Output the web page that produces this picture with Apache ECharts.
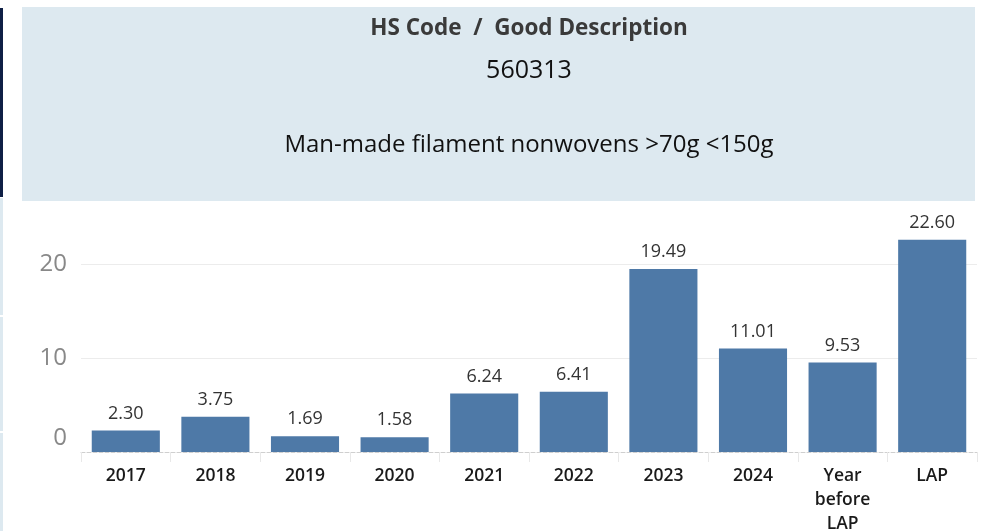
<!DOCTYPE html>
<html>
<head>
<meta charset="utf-8">
<script src="https://cdn.jsdelivr.net/npm/echarts@6/dist/echarts.min.js"></script>
<style>
  html, body { margin: 0; padding: 0; background: #fff; }
  #chart { width: 986px; height: 531px; }
</style>
</head>
<body>
<div id="chart"></div>
<script>
// data
var categories = ["2017", "2018", "2019", "2020", "2021", "2022", "2023", "2024", "Year before LAP", "LAP"];
var values = [2.30, 3.75, 1.69, 1.58, 6.24, 6.41, 19.49, 11.01, 9.53, 22.60];
var yTicks = [0, 10, 20];

var headerLabel = "HS Code  /  Good Description";
var hsCode = "560313";
var goodDesc = "Man-made filament nonwovens >70g <150g";

var FONT = "Open Sans";

var chart = echarts.init(document.getElementById("chart"));

var option = {
  backgroundColor: "#ffffff",
  animation: false,
  graphic: [
    // left edge strips
    { type: "rect", shape: { x: 0, y: 8, width: 3, height: 189 }, style: { fill: "#0e1f45" } },
    { type: "rect", shape: { x: 0, y: 198, width: 3, height: 117 }, style: { fill: "#dde9f0" } },
    { type: "rect", shape: { x: 0, y: 317, width: 3, height: 114 }, style: { fill: "#dde9f0" } },
    { type: "rect", shape: { x: 0, y: 433, width: 3, height: 98 }, style: { fill: "#dde9f0" } },
    // header box
    { type: "rect", z: 10, shape: { x: 22, y: 7, width: 953, height: 194 }, style: { fill: "#dde9f0" } },
    {
      type: "text", z: 11, x: 529, y: 29,
      style: { text: headerLabel, fill: "#3a3a3a", font: "bold 22.5px '" + FONT + "'", align: "center", verticalAlign: "middle" }
    },
    {
      type: "text", z: 11, x: 529, y: 71,
      style: { text: hsCode, fill: "#111", font: "25px '" + FONT + "'", align: "center", verticalAlign: "middle" }
    },
    {
      type: "text", z: 11, x: 529, y: 145,
      style: { text: goodDesc, fill: "#111", font: "24px '" + FONT + "'", align: "center", verticalAlign: "middle" }
    }
  ],
  grid: { left: 81, right: 9, top: 205, bottom: 79, outerBoundsMode: "none" },
  xAxis: {
    type: "category",
    data: categories,
    axisLine: { show: true, lineStyle: { color: "#cfcfcf", type: "dashed", width: 1 } },
    axisTick: { show: true, alignWithLabel: false, length: 10, lineStyle: { color: "#e8e8e8" } },
    axisLabel: {
      interval: 0,
      margin: 12,
      color: "#1a1a1a",
      fontFamily: FONT,
      fontSize: 17.5,
      fontWeight: 600,
      lineHeight: 24,
      formatter: function (v) { return v.split(" ").join("\n"); }
    }
  },
  yAxis: {
    type: "value",
    min: 0,
    max: 26.3,
    interval: 10,
    axisLine: { show: false },
    axisTick: { show: false },
    splitLine: { show: true, showMinLine: false, showMaxLine: false, lineStyle: { color: "#ececec", width: 1 } },
    axisLabel: {
      margin: 14,
      color: "#888",
      fontFamily: FONT,
      fontSize: 24,
      formatter: function (v) {
        if (yTicks.indexOf(v) < 0) return "";
        if (v === 0) return "{z|0}";
        return String(v);
      },
      rich: { z: { color: "#888", fontFamily: FONT, fontSize: 24, padding: [0, 0, 28, 0] } }
    }
  },
  series: [
    {
      type: "bar",
      data: values,
      barWidth: "76%",
      itemStyle: { color: "#4e79a7" },
      label: {
        show: true,
        position: "top",
        distance: 8,
        color: "#333",
        fontFamily: FONT,
        fontSize: 18,
        formatter: function (p) { return p.value.toFixed(2); }
      }
    }
  ]
};

chart.setOption(option);
</script>
</body>
</html>
